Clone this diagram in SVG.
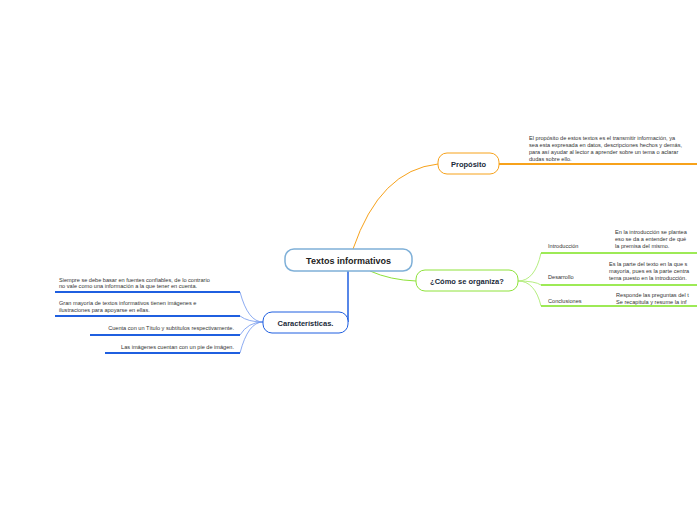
<svg xmlns="http://www.w3.org/2000/svg" width="697" height="520" viewBox="0 0 697 520">
<style>
text{font-family:"Liberation Sans",Arial,sans-serif;fill:#333}
.s{font-size:5.6px}
.n{font-size:7.5px;font-weight:bold;fill:#1a2a3a}
.c{fill:none}
</style>
<rect width="697" height="520" fill="#fff"/>
<g id="connectors" class="c">
<path d="M353 249 Q380 170 438 164" stroke="#f7a21b" stroke-width="1"/>
<line x1="499" y1="164" x2="697" y2="164" stroke="#f7a21b" stroke-width="2"/>
<path d="M370 271 Q390 280 416 281" stroke="#8ee23a" stroke-width="1"/>
<path d="M518 281 Q535 281 541 253 M518 281 Q535 281 541 285 M518 281 Q535 281 541 306" stroke="#b5ee80" stroke-width="1"/>
<g stroke="#7de31e" stroke-width="1.5">
<line x1="541" y1="253" x2="586" y2="253"/><line x1="586" y1="253" x2="697" y2="253"/>
<line x1="541" y1="285" x2="603" y2="285"/><line x1="603" y1="285" x2="697" y2="285"/>
<line x1="541" y1="306" x2="612" y2="306"/><line x1="612" y1="306" x2="697" y2="306"/>
</g>
<path d="M348 271 L348 322" stroke="#1f5fe0" stroke-width="1.5"/>
<path d="M263 322 Q248 322 240 292 M263 322 Q248 322 240 316 M263 322 Q248 322 240 335 M263 322 Q248 322 240 353" stroke="#6f95ee" stroke-width="0.8"/>
<g stroke="#1f5fe0" stroke-width="2">
<line x1="55" y1="292" x2="240" y2="292"/>
<line x1="55" y1="316" x2="240" y2="316"/>
<line x1="90" y1="335" x2="240" y2="335"/>
<line x1="105" y1="353" x2="240" y2="353"/>
</g>
</g>
<g id="central">
<rect x="285" y="249" width="127" height="22" rx="9" fill="#fff" stroke="#7fb0d8" stroke-width="1.5"/>
<text x="348.5" y="263.5" text-anchor="middle" style="font-size:9px;font-weight:bold;fill:#222">Textos informativos</text>
</g>
<g id="proposito">
<rect x="438" y="153" width="61" height="21" rx="9" fill="#fff" stroke="#f7a21b"/>
<text class="n" x="468.5" y="166.5" text-anchor="middle">Propósito</text>
<text class="s" x="529" y="140">El propósito de estos textos es el transmitir información, ya</text>
<text class="s" x="529" y="147">sea esta expresada en datos, descripciones hechos y demás,</text>
<text class="s" x="529" y="154">para así ayudar al lector a aprender sobre un tema o aclarar</text>
<text class="s" x="529" y="161">dudas sobre ello.</text>
</g>
<g id="organiza">
<rect x="416" y="270" width="102" height="21" rx="9" fill="#fff" stroke="#8ee23a"/>
<text class="n" x="467" y="283.5" text-anchor="middle">¿Cómo se organiza?</text>
<text class="s" x="548" y="248">Introducción</text>
<text class="s" x="615" y="234">En la introducción se plantea</text>
<text class="s" x="615" y="241">eso se da a entender de qué</text>
<text class="s" x="615" y="248">la premisa del mismo.</text>
<text class="s" x="548" y="279">Desarrollo</text>
<text class="s" x="609" y="266">Es la parte del texto en la que s</text>
<text class="s" x="609" y="273">mayoría, pues es la parte centra</text>
<text class="s" x="609" y="280">tema puesto en la introducción.</text>
<text class="s" x="548" y="303">Conclusiones</text>
<text class="s" x="616" y="297">Responde las preguntas del t</text>
<text class="s" x="616" y="304">Se recapitula y resume la inf</text>
</g>
<g id="caracteristicas">
<rect x="263" y="312" width="85" height="21" rx="9" fill="#fff" stroke="#1f5fe0"/>
<text class="n" x="305.5" y="325.5" text-anchor="middle">Características.</text>
<text class="s" x="59" y="282">Siempre se debe basar en fuentes confiables, de lo contrario</text>
<text class="s" x="59" y="288">no vale como una información a la que tener en cuenta.</text>
<text class="s" x="59" y="305">Gran mayoría de textos informativos tienen imágenes e</text>
<text class="s" x="59" y="312">ilustraciones para apoyarse en ellas.</text>
<text class="s" x="234" y="330" text-anchor="end">Cuenta con un Título y subtítulos respectivamente.</text>
<text class="s" x="234" y="349" text-anchor="end">Las imágenes cuentan con un pie de imágen.</text>
</g>
</svg>
